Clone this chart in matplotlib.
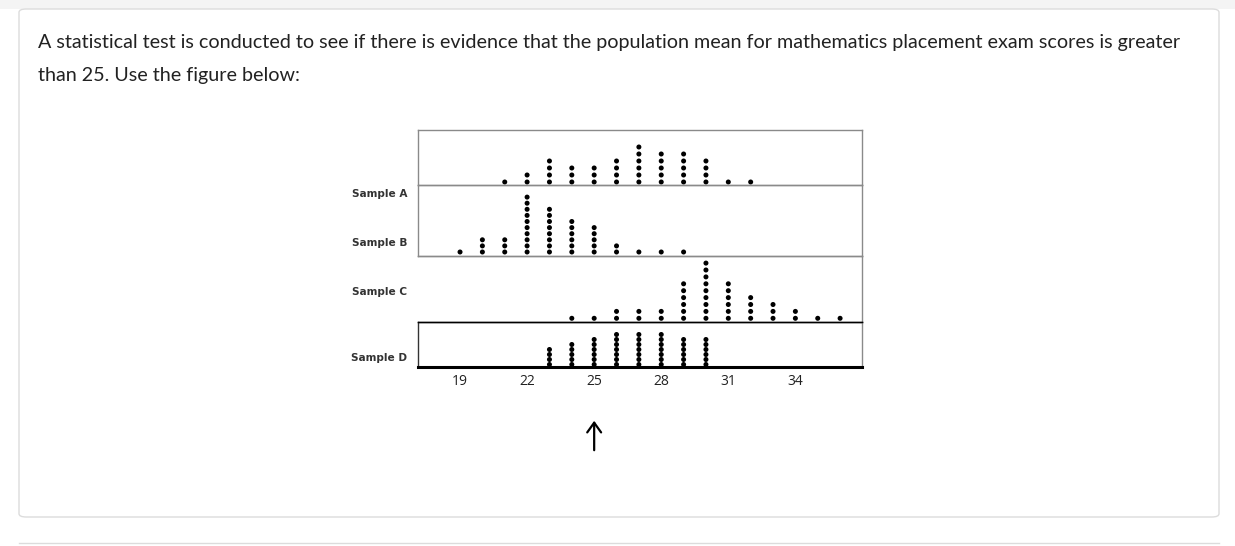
import matplotlib
matplotlib.use('Agg')
import matplotlib.pyplot as plt
from matplotlib.patches import FancyBboxPatch, Rectangle
import numpy as np

# dot plot data: score value -> number of dots
a_vals = [21, 22, 23, 24, 25, 26, 27, 28, 29, 30, 31, 32]
a_cnts = [1, 2, 4, 3, 3, 4, 6, 5, 5, 4, 1, 1]
b_vals = [19, 20, 21, 22, 23, 24, 25, 26, 27, 28, 29]
b_cnts = [1, 3, 3, 10, 8, 6, 5, 2, 1, 1, 1]
c_vals = [24, 25, 26, 27, 28, 29, 30, 31, 32, 33, 34, 35, 36]
c_cnts = [1, 1, 2, 2, 2, 6, 9, 6, 4, 3, 2, 1, 1]
d_vals = [23, 24, 25, 26, 27, 28, 29, 30]
d_cnts = [4, 5, 6, 7, 7, 7, 6, 6]
row_names = ['Sample A', 'Sample B', 'Sample C', 'Sample D']
tick_vals = [19, 22, 25, 28, 31, 34]

question = ('A statistical test is conducted to see if there is evidence that the population '
            'mean for mathematics placement exam scores is greater')
question2 = 'than 25. Use the figure below:'

W, H = 1235, 546
fig = plt.figure(figsize=(W / 100, H / 100), dpi=100)
fig.patch.set_facecolor('white')

def px(x0, y0, x1, y1):
    # pixel box (top-left origin) -> figure fraction rect
    return [x0 / W, 1 - y1 / H, (x1 - x0) / W, (y1 - y0) / H]

# page background bits
fig.patches.append(Rectangle((0, 1 - 9 / H), 1, 9 / H, transform=fig.transFigure,
                             facecolor='#f4f4f4', edgecolor='none', zorder=-2))
fig.patches.append(FancyBboxPatch((19 / W, 1 - 517 / H), 1200 / W, 508 / H,
                                  boxstyle='round,pad=0,rounding_size=0.006',
                                  transform=fig.transFigure, facecolor='white',
                                  edgecolor='#dcdcdc', lw=1, zorder=-1))
fig.lines.append(plt.Line2D([19 / W, 1219 / W], [1 - 543 / H] * 2, transform=fig.transFigure,
                            color='#dcdcdc', lw=1, zorder=-1))

fig.text(38 / W, 1 - 43 / H, question, fontsize=14.2, family='Lato', color='#222222', va='center')
fig.text(38 / W, 1 - 75 / H, question2, fontsize=14.2, family='Lato', color='#222222', va='center')

# rows: (top px, bottom px, dot spacing px, bottom offset px)
rows = [(130, 185, 7.0, 3.0), (185, 256, 6.1, 4.0), (256, 322, 6.9, 3.7), (322, 367, 5.0, 2.5)]
data = [(a_vals, a_cnts), (b_vals, b_cnts), (c_vals, c_cnts), (d_vals, d_cnts)]
label_y = [194, 243, 292, 358]
xlim = (17.12, 36.98)

axes = []
for i, ((top, bot, sp, off), (vals, cnts)) in enumerate(zip(rows, data)):
    ax = fig.add_axes(px(418, top, 862, bot))
    ax.set_facecolor('none')
    xs, ys = [], []
    for v, c in zip(vals, cnts):
        xs += [v] * c
        ys += list(range(1, c + 1))
    ax.scatter(xs, ys, s=13, marker='o', color='black', edgecolors='none')
    lo = 1 - off / sp
    ax.set_xlim(*xlim)
    ax.set_ylim(lo, lo + (bot - top) / sp)
    ax.set_xticks([])
    ax.set_yticks([])
    for s in ax.spines.values():
        s.set_color('#8a8a8a')
        s.set_linewidth(1)
    axes.append(ax)
    fig.text(407 / W, 1 - label_y[i] / H, row_names[i], fontsize=7.6, family='DejaVu Sans',
             weight='bold', color='#333333', ha='right', va='center')

axes[2].spines['left'].set_visible(False)
axes[2].spines['bottom'].set_color('black')
axes[3].spines['top'].set_color('black')
axes[3].spines['left'].set_color('#333333')
axes[3].spines['bottom'].set_color('black')
axes[3].spines['bottom'].set_linewidth(2.2)

ax_d = axes[3]
ax_d.set_xticks(tick_vals)
ax_d.set_xticklabels([str(t) for t in tick_vals], fontsize=10, family='Open Sans', color='#222222')
ax_d.tick_params(axis='x', length=0, pad=5)

# arrow under 25
ax_d.annotate('', xy=(25, H - 418), xycoords=('data', 'figure pixels'),
              xytext=(25, H - 453), textcoords=('data', 'figure pixels'),
              arrowprops=dict(arrowstyle='->,head_length=0.7,head_width=0.5', lw=1.6, color='black'),
              annotation_clip=False)

fig.savefig('out.png', dpi=100, facecolor=fig.get_facecolor())
